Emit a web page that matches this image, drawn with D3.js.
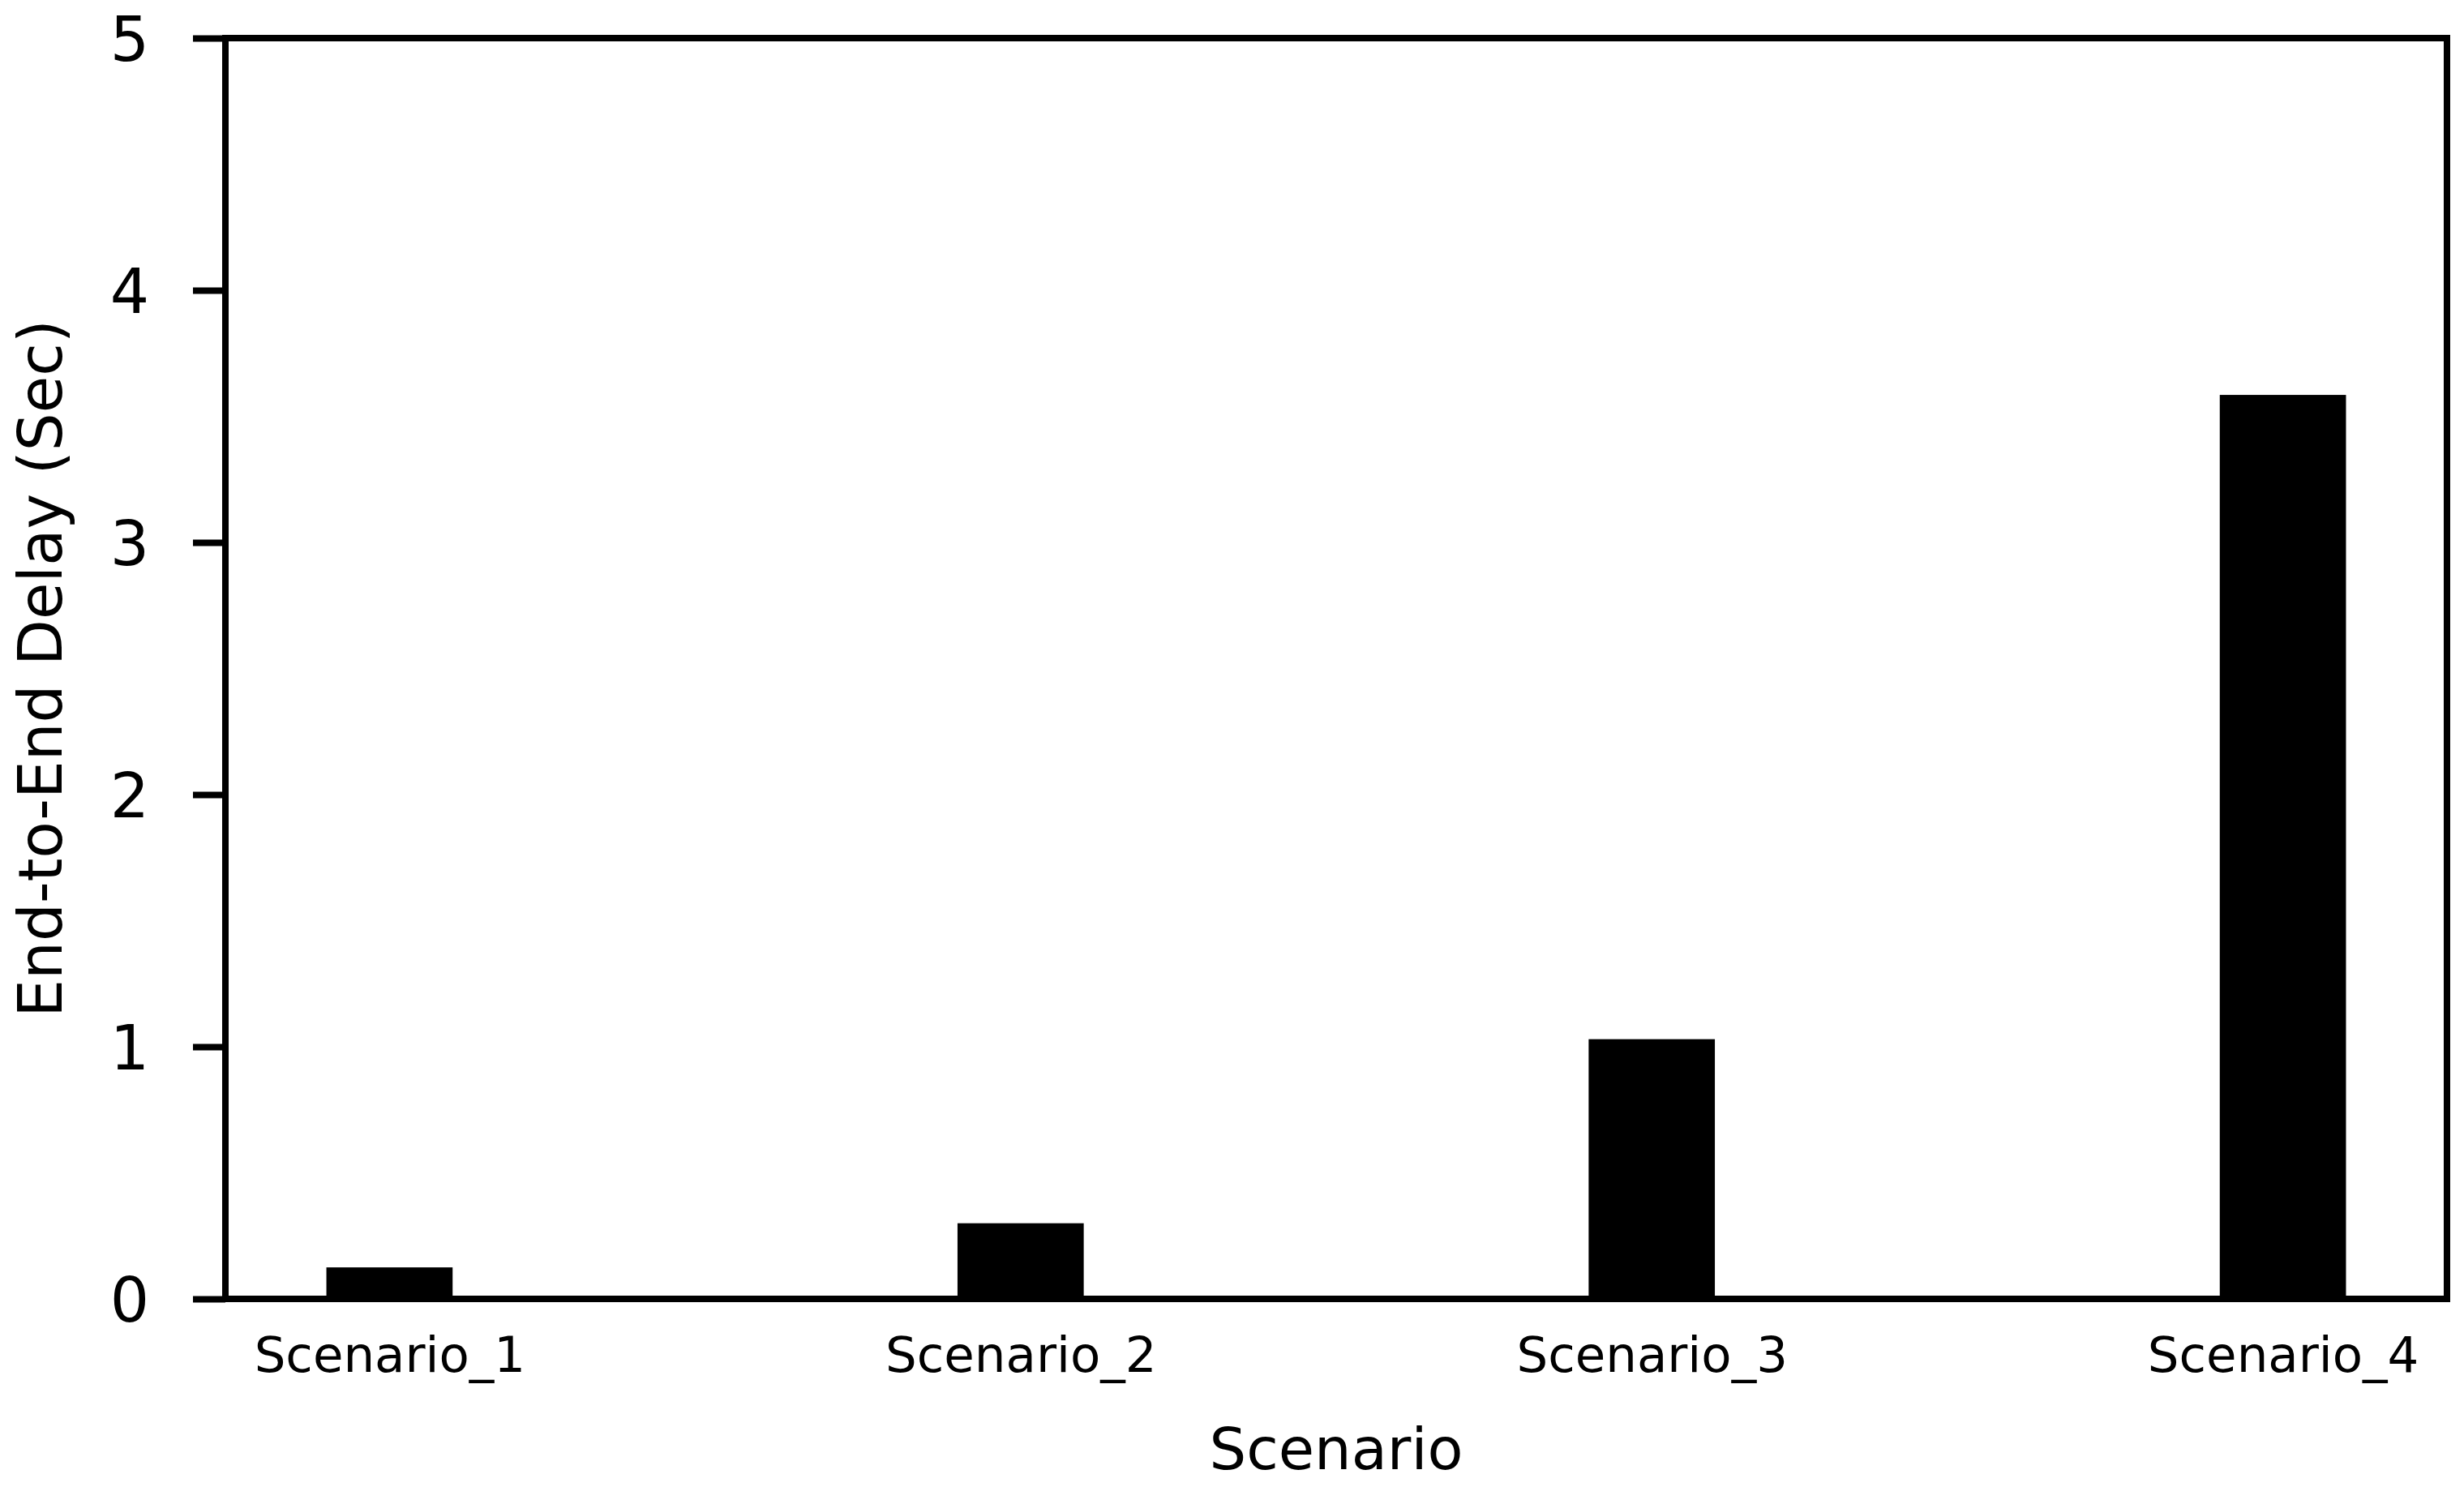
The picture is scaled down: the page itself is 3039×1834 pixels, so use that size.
<!DOCTYPE html>
<html>
<head>
<meta charset="utf-8">
<script src="https://cdn.jsdelivr.net/npm/d3@7"></script>
<style>
  body { margin: 0; background: #fff; }
  text { font-family: "DejaVu Sans", sans-serif; fill: #000; }
</style>
</head>
<body>
<div id="chart"></div>
<script>
// Data
var scenarios = ["Scenario_1", "Scenario_2", "Scenario_3", "Scenario_4"];
var delays = [0.125, 0.30, 1.03, 3.585];
var yTicks = [0, 1, 2, 3, 4, 5];

// Set up the dimensions and margins of the graph
var margin = {top: 47, right: 21, bottom: 232, left: 278},
    width = 3039 - margin.left - margin.right,
    height = 1834 - margin.top - margin.bottom;

var svg = d3.select("#chart")
    .append("svg")
        .attr("width", width + margin.left + margin.right)
        .attr("height", height + margin.top + margin.bottom)
    .append("g")
        .attr("transform", "translate(" + margin.left + "," + margin.top + ")");

// bars sit at 0..3 with width 0.2, plus a 5% margin each side
var barWidth = 0.2;
var x = d3.scaleLinear()
    .domain([-0.26, 3.26])
    .range([0, width]);

var y = d3.scaleLinear()
    .domain([0, 5])
    .range([height, 0]);

// Bars
svg.append("g")
    .selectAll("rect")
    .data(delays)
    .enter().append("rect")
    .attr("x", (d, i) => x(i - barWidth / 2))
    .attr("y", d => y(d))
    .attr("width", x(barWidth) - x(0))
    .attr("height", d => y(0) - y(d))
    .attr("fill", "#000");

// X axis (no tick marks)
var xAxis = svg.append("g")
    .attr("transform", "translate(0," + height + ")")
    .call(d3.axisBottom(x)
        .tickValues(d3.range(scenarios.length))
        .tickFormat(i => scenarios[i])
        .tickSize(0)
        .tickPadding(90));
xAxis.select(".domain").remove();
xAxis.selectAll("text")
    .style("font-size", "61px")
    .attr("dy", 0);

// Y axis
var yAxis = svg.append("g")
    .call(d3.axisLeft(y)
        .tickValues(yTicks)
        .tickFormat(d3.format("d"))
        .tickSize(40)
        .tickPadding(54));
yAxis.select(".domain").remove();
yAxis.selectAll(".tick line")
    .attr("stroke", "#000")
    .attr("stroke-width", 8);
yAxis.selectAll("text")
    .style("font-size", "76px")
    .attr("dy", "0.36em");

// Frame around the plot area
svg.append("rect")
    .attr("x", 0)
    .attr("y", 0)
    .attr("width", width)
    .attr("height", height)
    .attr("fill", "none")
    .attr("stroke", "#000")
    .attr("stroke-width", 8);

// Axis labels
svg.append("text")
    .attr("transform", "rotate(-90)")
    .attr("x", -height / 2)
    .attr("y", -margin.left + 76)
    .attr("text-anchor", "middle")
    .style("font-size", "74px")
    .text("End-to-End Delay (Sec)");

svg.append("text")
    .attr("x", width / 2)
    .attr("y", height + 210)
    .attr("text-anchor", "middle")
    .style("font-size", "72px")
    .text("Scenario");
</script>
</body>
</html>
